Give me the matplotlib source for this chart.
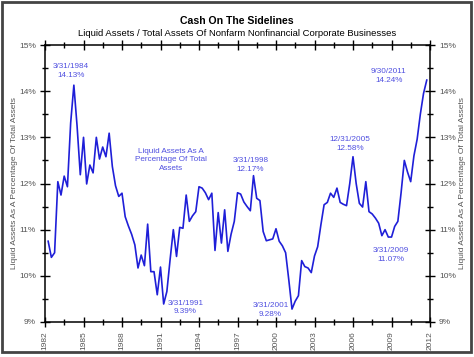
import numpy as np
import pandas as pd
import matplotlib
matplotlib.use("Agg")
import matplotlib.pyplot as plt
from matplotlib.patches import Rectangle

plt.rcParams['font.family'] = ['Liberation Sans', 'DejaVu Sans']

# quarterly liquid assets / total assets (%), 3/31/1982 .. 9/30/2011
liquid_pct = [
    10.75, 10.40, 10.50, 12.04,   # 1982
    11.75, 12.16, 11.93, 13.31,   # 1983
    14.13, 13.25, 12.19, 13.00,   # 1984
    11.99, 12.40, 12.23, 13.00,   # 1985
    12.53, 12.79, 12.58, 13.09,   # 1986
    12.37, 11.95, 11.72, 11.79,   # 1987
    11.28, 11.08, 10.90, 10.67,   # 1988
    10.17, 10.45, 10.22, 11.12,   # 1989
    10.09, 10.09, 9.59, 10.19,    # 1990
    9.39, 9.66, 10.35, 11.00,     # 1991
    10.42, 11.05, 11.03, 11.75,   # 1992
    11.18, 11.30, 11.39, 11.93,   # 1993
    11.90, 11.80, 11.65, 11.79,   # 1994
    10.55, 11.37, 10.71, 11.43,   # 1995
    10.53, 10.90, 11.18, 11.80,   # 1996
    11.77, 11.60, 11.50, 11.41,   # 1997
    12.17, 11.68, 11.63, 10.96,   # 1998
    10.76, 10.78, 10.80, 11.02,   # 1999
    10.75, 10.65, 10.50, 9.90,    # 2000
    9.28, 9.45, 9.57, 10.33,      # 2001
    10.20, 10.17, 10.07, 10.43,   # 2002
    10.63, 11.10, 11.54, 11.59,   # 2003
    11.79, 11.70, 11.90, 11.59,   # 2004
    11.55, 11.52, 12.00, 12.58,   # 2005
    12.00, 11.57, 11.49, 12.04,   # 2006
    11.39, 11.34, 11.25, 11.14,   # 2007
    10.87, 11.00, 10.84, 10.84,   # 2008
    11.07, 11.18, 11.80, 12.50,   # 2009
    12.25, 12.04, 12.60, 12.96,   # 2010
    13.50, 13.95, 14.24,          # 2011
]
dates = pd.date_range('1982-03-31', periods=len(liquid_pct), freq='QE')
years = dates.year + dates.dayofyear / 365.25

callouts = [
    ("3/31/1984\n14.13%", 1984.03, 14.44),
    ("Liquid Assets As A\nPercentage Of Total\nAssets", 1991.84, 12.51),
    ("3/31/1998\n12.17%", 1998.0, 12.40),
    ("3/31/1991\n9.39%", 1992.94, 9.31),
    ("3/31/2001\n9.28%", 1999.58, 9.26),
    ("12/31/2005\n12.58%", 2005.75, 12.86),
    ("9/30/2011\n14.24%", 2008.8, 14.33),
    ("3/31/2009\n11.07%", 2008.95, 10.45),
]

W, H = 474, 357
fig = plt.figure(figsize=(W / 100, H / 100), dpi=100)
ax = fig.add_axes([45 / W, 1 - 322 / H, 385 / W, 277 / H])

ax.plot(years, liquid_pct, color='#1f1fd8', linewidth=1.2)

for txt, x, y in callouts:
    ax.text(x, y, txt, color='#5050e0', fontsize=5.9, ha='center', va='center',
            linespacing=1.3)

ax.set_xlim(1982, 2012)
ax.set_ylim(9, 15)
ax.set_xticks(np.arange(1982, 2013, 3))
ax.set_xticks(np.arange(1982, 2012.1, 1.5), minor=True)
ax.set_yticks(np.arange(9, 15.1, 1))
ax.set_yticks(np.arange(9, 15.1, 0.5), minor=True)
ax.set_xticklabels([str(y) for y in range(1982, 2013, 3)], rotation=90)
ax.set_yticklabels(['%d%%' % v for v in range(9, 16)])

ax.tick_params(which='both', direction='inout', top=True, right=True,
               labelright=True, colors='black', labelcolor='#555555',
               labelsize=6, width=1)
ax.tick_params(which='major', length=7, pad=3)
ax.tick_params(which='minor', length=5)
for s in ax.spines.values():
    s.set_linewidth(1.1)

ylab = "Liquid Assets As A Percentage Of Total Assets"
ax.set_ylabel(ylab, fontsize=6, color='#555555', labelpad=1)
ax2 = ax.secondary_yaxis('right')
ax2.set_yticks([])
ax2.set_ylabel(ylab, fontsize=6, color='#555555', labelpad=21)
ax2.spines['right'].set_visible(False)

fig.text(0.5, 1 - 21 / H, "Cash On The Sidelines", ha='center', va='center',
         fontsize=7.6, fontweight='bold')
fig.text(0.5, 1 - 34 / H,
         "Liquid Assets / Total Assets Of Nonfarm Nonfinancial Corporate Businesses",
         ha='center', va='center', fontsize=6.8)

fig.patches.append(Rectangle((2 / W, 5 / H), 469 / W, 350 / H, transform=fig.transFigure,
                             fill=False, edgecolor='#444444', linewidth=2))

fig.savefig('out.png', dpi=100)
